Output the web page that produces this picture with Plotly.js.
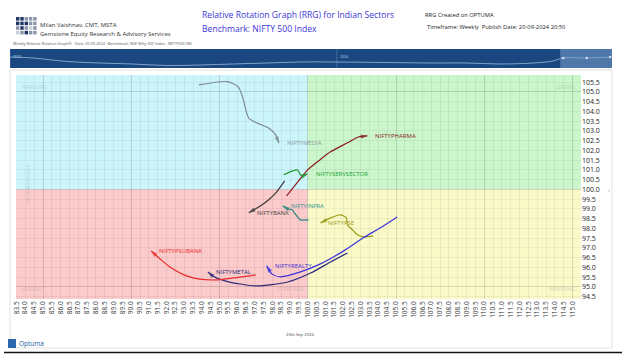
<!DOCTYPE html>
<html><head><meta charset="utf-8">
<script src="https://cdn.plot.ly/plotly-3.0.1.min.js"></script>
<style>html,body{margin:0;padding:0;background:#fff;}#chart{width:626px;height:354px;}</style>
</head><body><div id="chart"></div>
<script>
// ---------- DATA ----------
const sectorNames = ["NIFTYMEDIA","NIFTYPHARMA","NIFTYSERVSECTOR","NIFTYBANK","NIFTYINFRA","NIFTYPSE","NIFTYREALTY","NIFTYMETAL","NIFTYPSUBANK"];
const mediaX = [93.83,95.45,96.05,96.30,96.49,96.67,97.15,97.80,98.18,98.37];
const mediaY = [105.36,105.53,105.27,104.76,104.08,103.65,103.40,103.14,102.80,102.37];
const pharmaX = [98.80,99.48,99.99,100.61,101.29,102.25,102.87,103.38];
const pharmaY = [99.67,100.44,101.00,101.46,101.93,102.39,102.69,102.75];
const servX = [98.63,99.14,99.42,99.59,99.76,99.99];
const servY = [100.75,100.95,101.00,100.75,100.70,100.80];
const bankX = [98.69,98.24,97.79,97.33,96.94,96.66];
const bankY = [100.44,99.88,99.47,99.16,98.95,98.80];
const infraX = [100.04,99.59,99.37,99.20,99.14,98.86,98.58];
const infraY = [98.44,98.44,98.65,98.85,98.95,99.00,99.16];
const pseX = [103.71,103.15,102.76,102.53,102.25,102.19,101.85,101.29,100.72];
const pseY = [97.62,97.57,97.72,97.93,98.18,98.54,98.70,98.54,98.28];
const realtyX = [105.07,104.11,103.15,102.13,100.72,99.59,98.46,97.96,97.67];
const realtyY = [98.59,98.03,97.52,96.90,96.18,95.77,95.52,95.67,96.08];
const metalX = [102.25,101.29,100.16,98.86,97.05,95.36,94.62,94.34];
const metalY = [96.74,96.28,95.71,95.25,95.05,95.30,95.56,95.77];
const psubankX = [97.05,95.81,94.91,93.78,92.99,92.25,91.69,91.12];
const psubankY = [95.62,95.46,95.36,95.41,95.62,95.98,96.39,96.85];
const quadrantNames = ["IMPROVING","LEADING","LAGGING","WEAKENING"];
const centreValue = 100;
// benchmark navigator (timeline strip)
const navT = [0,3.8,9.5,15,20.4,26,31.6,37,42.7,48.2,54.3,70.3,75.9,81.4,86.9,90.2,91.9,95.8,99.7];
const navV = [11,10,6.5,5,4,2.5,3,4,5,6,6,5,5,4,5,7,10,10,11];
const navYearLabels = ["2023","2024"];
const navYearPos = [0,54.3];

// ---------- STYLE ----------
const W=626,H=354;
const FONT='"Open Sans", "DejaVu Sans", sans-serif';
const lineColors=['#7e8993','#8b1c1c','#1f9a2c','#3a3a3a','#2a8a80','#9a9a14','#3b32e0','#2c2a78','#e82a2a'];
const labelColors=['#8a96a2','#8b2222','#22a032','#444444','#2a9292','#9a9a20','#3a30d2','#2a2a72','#e82a2a'];
const seriesX=[mediaX,pharmaX,servX,bankX,infraX,pseX,realtyX,metalX,psubankX];
const seriesY=[mediaY,pharmaY,servY,bankY,infraY,pseY,realtyY,metalY,psubankY];
const px=x=>x/W, py=y=>1-y/H;
const XR=[83.47,115.48], YR=[94.38,105.87];

const traces=[];
sectorNames.forEach((n,i)=>{
  const X=seriesX[i],Y=seriesY[i];
  traces.push({type:'scatter',mode:'lines+markers',x:X,y:Y,name:n,xaxis:'x',yaxis:'y',
    line:{color:lineColors[i],width:1.2,shape:'spline',smoothing:0.7},
    marker:{symbol:'arrow',angleref:'previous',size:X.map((v,k)=>k===X.length-1?7:0),color:lineColors[i],line:{width:0}},
    hoverinfo:'skip',showlegend:false,cliponaxis:false});
});
// navigator line
traces.push({type:'scatter',mode:'lines',x:navT,y:navV,xaxis:'x3',yaxis:'y3',line:{color:'#7fa3cc',width:1,shape:'spline'},hoverinfo:'skip',showlegend:false});
traces.push({type:'scatter',mode:'markers',x:navT.slice(-3),y:navV.slice(-3),xaxis:'x3',yaxis:'y3',marker:{color:'#cfe0f2',size:2.5},hoverinfo:'skip',showlegend:false});

const shapes=[];
// panel
shapes.push({type:'rect',xref:'paper',yref:'paper',x0:px(10),x1:px(612),y0:py(348),y1:py(70),line:{color:'#e2e2e2',width:1},fillcolor:'#ffffff',layer:'below'});
// navigator band
shapes.push({type:'rect',xref:'paper',yref:'paper',x0:px(10),x1:px(612),y0:py(68),y1:py(49),line:{width:0},fillcolor:'#1a477f',layer:'below'});
shapes.push({type:'rect',xref:'x3',yref:'paper',x0:91.4,x1:100,y0:py(68),y1:py(49),line:{width:0},fillcolor:'#4f77a8',layer:'below'});
navYearPos.forEach(p=>shapes.push({type:'line',xref:'x3',yref:'paper',x0:p,x1:p,y0:py(68),y1:py(49),line:{color:'rgba(160,190,225,0.5)',width:0.6}}));
// quadrants
const qFill=['#cbf5fa','#cbf6cb','#fbcaca','#fafac9'];
shapes.push({type:'rect',xref:'x',yref:'y',x0:XR[0]-5,x1:centreValue,y0:centreValue,y1:YR[1]+5,fillcolor:qFill[0],line:{width:0},layer:'below'});
shapes.push({type:'rect',xref:'x',yref:'y',x0:centreValue,x1:XR[1]+5,y0:centreValue,y1:YR[1]+5,fillcolor:qFill[1],line:{width:0},layer:'below'});
shapes.push({type:'rect',xref:'x',yref:'y',x0:XR[0]-5,x1:centreValue,y0:YR[0]-5,y1:centreValue,fillcolor:qFill[2],line:{width:0},layer:'below'});
shapes.push({type:'rect',xref:'x',yref:'y',x0:centreValue,x1:XR[1]+5,y0:YR[0]-5,y1:centreValue,fillcolor:qFill[3],line:{width:0},layer:'below'});
// logo squares
const logoPat=[[2,2,1,1,1],[2,2,2,1,1],[1,2,1,0,1],[0,1,2,1,1]];
const logoCol=['#c9cfd9','#8b95aa','#1f3566'];
logoPat.forEach((row,r)=>row.forEach((c,k)=>shapes.push({type:'rect',xref:'paper',yref:'paper',
  x0:px(16+k*4.3),x1:px(16+k*4.3+3.4),y0:py(17+r*4.6+3.6),y1:py(17+r*4.6),fillcolor:logoCol[c],line:{width:0}})));
// optuma icon
shapes.push({type:'rect',xref:'paper',yref:'paper',x0:px(8),x1:px(16),y0:py(348),y1:py(339),fillcolor:'#2a66ad',line:{width:0}});
// bottom black rule
shapes.push({type:'line',xref:'paper',yref:'paper',x0:px(4),x1:px(622),y0:py(352.5),y1:py(352.5),line:{color:'#111',width:1.6}});

const ann=[];
const A=(x,y,t,o)=>ann.push(Object.assign({xref:'paper',yref:'paper',x:px(x),y:py(y),text:t,showarrow:false,xanchor:'left',yanchor:'middle',font:{family:FONT,size:6,color:'#333'}},o||{}));
A(38,25,'Milan Vaishnav, CMT, MSTA',{font:{family:FONT,size:6,color:'#333'}});
A(38,34,'Gemstone Equity Research &amp; Advisory Services',{font:{family:FONT,size:6,color:'#333'}});
A(200,15,'Relative Rotation Graph (RRG) for Indian Sectors',{font:{family:FONT,size:8.6,color:'#3d35d8'}});
A(200,29,'Benchmark: NIFTY 500 Index',{font:{family:FONT,size:8.6,color:'#3d35d8'}});
A(423,15,'RRG Created on OPTUMA',{font:{family:FONT,size:5.8,color:'#222'}});
A(425,27,'Timeframe: Weekly  Publish Date: 20-09-2024 20:50',{font:{family:FONT,size:5.8,color:'#222'}});
A(11,43.5,'Weekly Relative Rotation Graph® · Date: 20-09-2024 · Benchmark: NSE Nifty 500 Index - NIFTY500 (IN)',{font:{family:FONT,size:3.8,color:'#555'}});
navYearLabels.forEach((t,i)=>ann.push({xref:'x3',yref:'paper',x:navYearPos[i],y:py(52),text:t,showarrow:false,xanchor:'left',xshift:1,font:{family:FONT,size:3.5,color:'#c8d8ee'}}));
// quadrant corner labels
const qc='rgba(120,130,140,0.35)';
ann.push({xref:'paper',yref:'paper',x:px(20),y:py(82),text:quadrantNames[0],showarrow:false,xanchor:'left',font:{family:FONT,size:4.5,color:qc}});
ann.push({xref:'paper',yref:'paper',x:px(577),y:py(82),text:quadrantNames[1],showarrow:false,xanchor:'right',font:{family:FONT,size:4.5,color:qc}});
ann.push({xref:'paper',yref:'paper',x:px(20),y:py(294),text:quadrantNames[2],showarrow:false,xanchor:'left',font:{family:FONT,size:4.5,color:qc}});
ann.push({xref:'paper',yref:'paper',x:px(577),y:py(294),text:quadrantNames[3],showarrow:false,xanchor:'right',font:{family:FONT,size:4.5,color:qc}});
ann.push({xref:'paper',yref:'paper',x:px(305),y:py(294),text:'20-SEP-2024',showarrow:false,xanchor:'right',font:{family:FONT,size:4.5,color:qc}});
ann.push({xref:'paper',yref:'paper',x:px(23),y:py(185),text:'JdK RS-Momentum',showarrow:false,textangle:-90,font:{family:FONT,size:4.5,color:qc}});
// series labels
sectorNames.forEach((n,i)=>{const X=seriesX[i],Y=seriesY[i];
  ann.push({xref:'x',yref:'y',x:X[X.length-1],y:Y[Y.length-1],text:n,showarrow:false,xanchor:'left',yanchor:'middle',xshift:6,
  font:{family:FONT,size:6,color:labelColors[i]}});});
A(17,343.5,'Optuma',{font:{family:FONT,size:6.5,color:'#1f5aa6'}});
ann.push({xref:'paper',yref:'paper',x:px(300),y:py(339),text:'20th Sep 2024',showarrow:false,xanchor:'center',font:{family:FONT,size:4.2,color:'#444'}});
A(606,190,'‹',{font:{family:FONT,size:7,color:'#999'}});

const layout={width:W,height:H,margin:{l:0,r:0,t:0,b:0},paper_bgcolor:'#fff',plot_bgcolor:'rgba(0,0,0,0)',
  showlegend:false,shapes:shapes,annotations:ann,
  xaxis:{domain:[px(16),px(581)],range:XR,dtick:0.5,tick0:0,tickformat:'.1f',tickangle:-90,showgrid:true,gridcolor:'rgba(0,0,0,0.05)',gridwidth:1,
    zeroline:false,showline:false,ticks:'',tickfont:{family:FONT,size:6.5,color:'#333'},automargin:false,fixedrange:true,anchor:'y'},
  yaxis:{domain:[py(299),py(75)],range:YR,dtick:0.5,tick0:0,tickformat:'.1f',side:'right',showgrid:true,gridcolor:'rgba(0,0,0,0.05)',
    zeroline:false,showline:false,ticks:'',tickfont:{family:FONT,size:7,color:'#222'},automargin:false,fixedrange:true,anchor:'x'},
  xaxis2:{overlaying:'x',range:XR,dtick:5,tick0:0,showticklabels:false,showgrid:true,gridcolor:'rgba(0,0,0,0.09)',zeroline:false,ticks:'',anchor:'y'},
  yaxis2:{overlaying:'y',range:YR,dtick:5,tick0:0,showticklabels:false,showgrid:true,gridcolor:'rgba(0,0,0,0.09)',zeroline:false,ticks:'',anchor:'x'},
  xaxis3:{domain:[px(10),px(612)],range:[0,100],visible:false,anchor:'y3',fixedrange:true},
  yaxis3:{domain:[py(68),py(49)],range:[0,19],visible:false,anchor:'x3',fixedrange:true}
};
traces.push({type:'scatter',x:[],y:[],xaxis:'x2',yaxis:'y2',hoverinfo:'skip',showlegend:false});
Plotly.newPlot('chart',traces,layout,{staticPlot:true,displayModeBar:false});
</script></body></html>
